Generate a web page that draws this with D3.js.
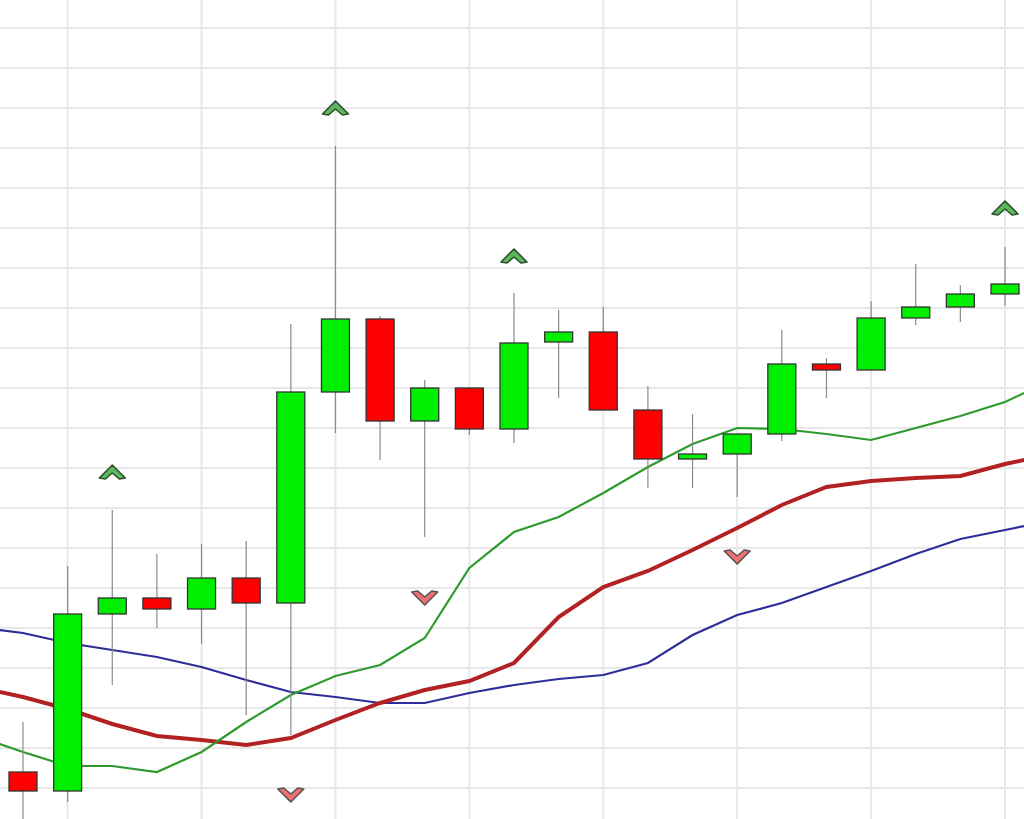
<!DOCTYPE html>
<html><head><meta charset="utf-8">
<script src="https://cdn.jsdelivr.net/npm/d3@7"></script>
<style>body{margin:0;background:#fff}svg{display:block}</style>
</head><body><svg id="c" width="1024" height="819"></svg>
<script>
const opens  = [47,28,205,221,210,241,216,427,500,398,431,390,477,487,409,360,365,385,455,449,501,512,525];
const highs  = [97,253,309,265,275,278,495,673,503,439,431,526,509,512,433,405,385,489,461,518,555,534,572];
const lows   = [-3,17,134,191,175,104,84,386,359,282,384,376,421,409,331,331,322,378,421,449,494,497,513];
const closes = [28,205,221,210,241,216,427,500,398,431,390,476,487,409,360,365,385,455,449,501,512,525,535];
const lineX = [-0.52,0,1,2,3,4,5,6,7,8,9,10,11,12,13,14,15,16,17,18,19,20,21,22,22.43];
const greenMA = [75,67,53,53,47,67,97,124,143,154,181,251,287,302,326,352,375,391,390,385,379,391,403,417,426];
const redMA   = [127,122,110,95,83,79,74,81,99,116,129,138,156,202,232,248,269,291,314,332,338,341,343,355,359];
const blueMA  = [189,186,176,169,162,152,139,127,122,116,116,126,134,140,144,156,184,204,216,232,248,265,280,289,293];
const upSignals = [[2,347],[7,711],[11,563],[22,611]];
const downSignals = [[6,24],[9,221],[16,262]];

const svg = d3.select("#c");
const x = d3.scaleLinear().domain([0,22]).range([23,1005]);
const y = d3.scaleLinear().domain([0,819]).range([819,0]);
const g = svg.append("g");
g.selectAll(".h").data(d3.range(31,820,40)).join("line")
 .attr("x1",0).attr("x2",1024).attr("y1",d=>y(d)).attr("y2",d=>y(d))
 .attr("stroke","#e8e8e8").attr("stroke-width",2);
g.selectAll(".v").data(d3.range(1,23,3)).join("line")
 .attr("x1",d=>x(d)).attr("x2",d=>x(d)).attr("y1",0).attr("y2",819)
 .attr("stroke","#e8e8e8").attr("stroke-width",2);
const ln = arr => d3.line().x((d,i)=>x(lineX[i])).y(d=>y(d))(arr);
svg.append("path").attr("d",ln(blueMA)).attr("fill","none").attr("stroke","#2e2e9a").attr("stroke-width",2.2);
svg.append("path").attr("d",ln(redMA)).attr("fill","none").attr("stroke","#b22222").attr("stroke-width",4);
svg.append("path").attr("d",ln(greenMA)).attr("fill","none").attr("stroke","#2e9a2e").attr("stroke-width",2.2);
const idx = d3.range(opens.length);
svg.selectAll(".w").data(idx).join("line")
 .attr("x1",i=>x(i)).attr("x2",i=>x(i)).attr("y1",i=>y(highs[i])).attr("y2",i=>y(lows[i]))
 .attr("stroke","#8a8a8a").attr("stroke-width",1.2);
const bw = 28;
svg.selectAll(".b").data(idx).join("rect")
 .attr("x",i=>x(i)-bw/2).attr("width",bw)
 .attr("y",i=>y(Math.max(opens[i],closes[i])))
 .attr("height",i=>Math.max(1,Math.abs(y(opens[i])-y(closes[i]))))
 .attr("fill",i=>closes[i]>=opens[i]?"#00ee00":"#ff0000")
 .attr("stroke","#333").attr("stroke-width",1.3);
const chev = (cx,cy,up)=>{const s=up?1:-1;return `M${cx-13},${cy+6*s} L${cx},${cy-7*s} L${cx+13},${cy+6*s} L${cx+7},${cy+7*s} L${cx},${cy+1*s} L${cx-7},${cy+7*s} Z`;};
svg.selectAll(".u").data(upSignals).join("path")
 .attr("d",d=>chev(x(d[0]),y(d[1]),true)).attr("fill","#5cb85c").attr("stroke","#2f4f2f").attr("stroke-width",1.6).attr("stroke-linejoin","round");
svg.selectAll(".dn").data(downSignals).join("path")
 .attr("d",d=>chev(x(d[0]),y(d[1]),false)).attr("fill","#f07070").attr("stroke","#555").attr("stroke-width",1.6).attr("stroke-linejoin","round");
</script></body></html>
